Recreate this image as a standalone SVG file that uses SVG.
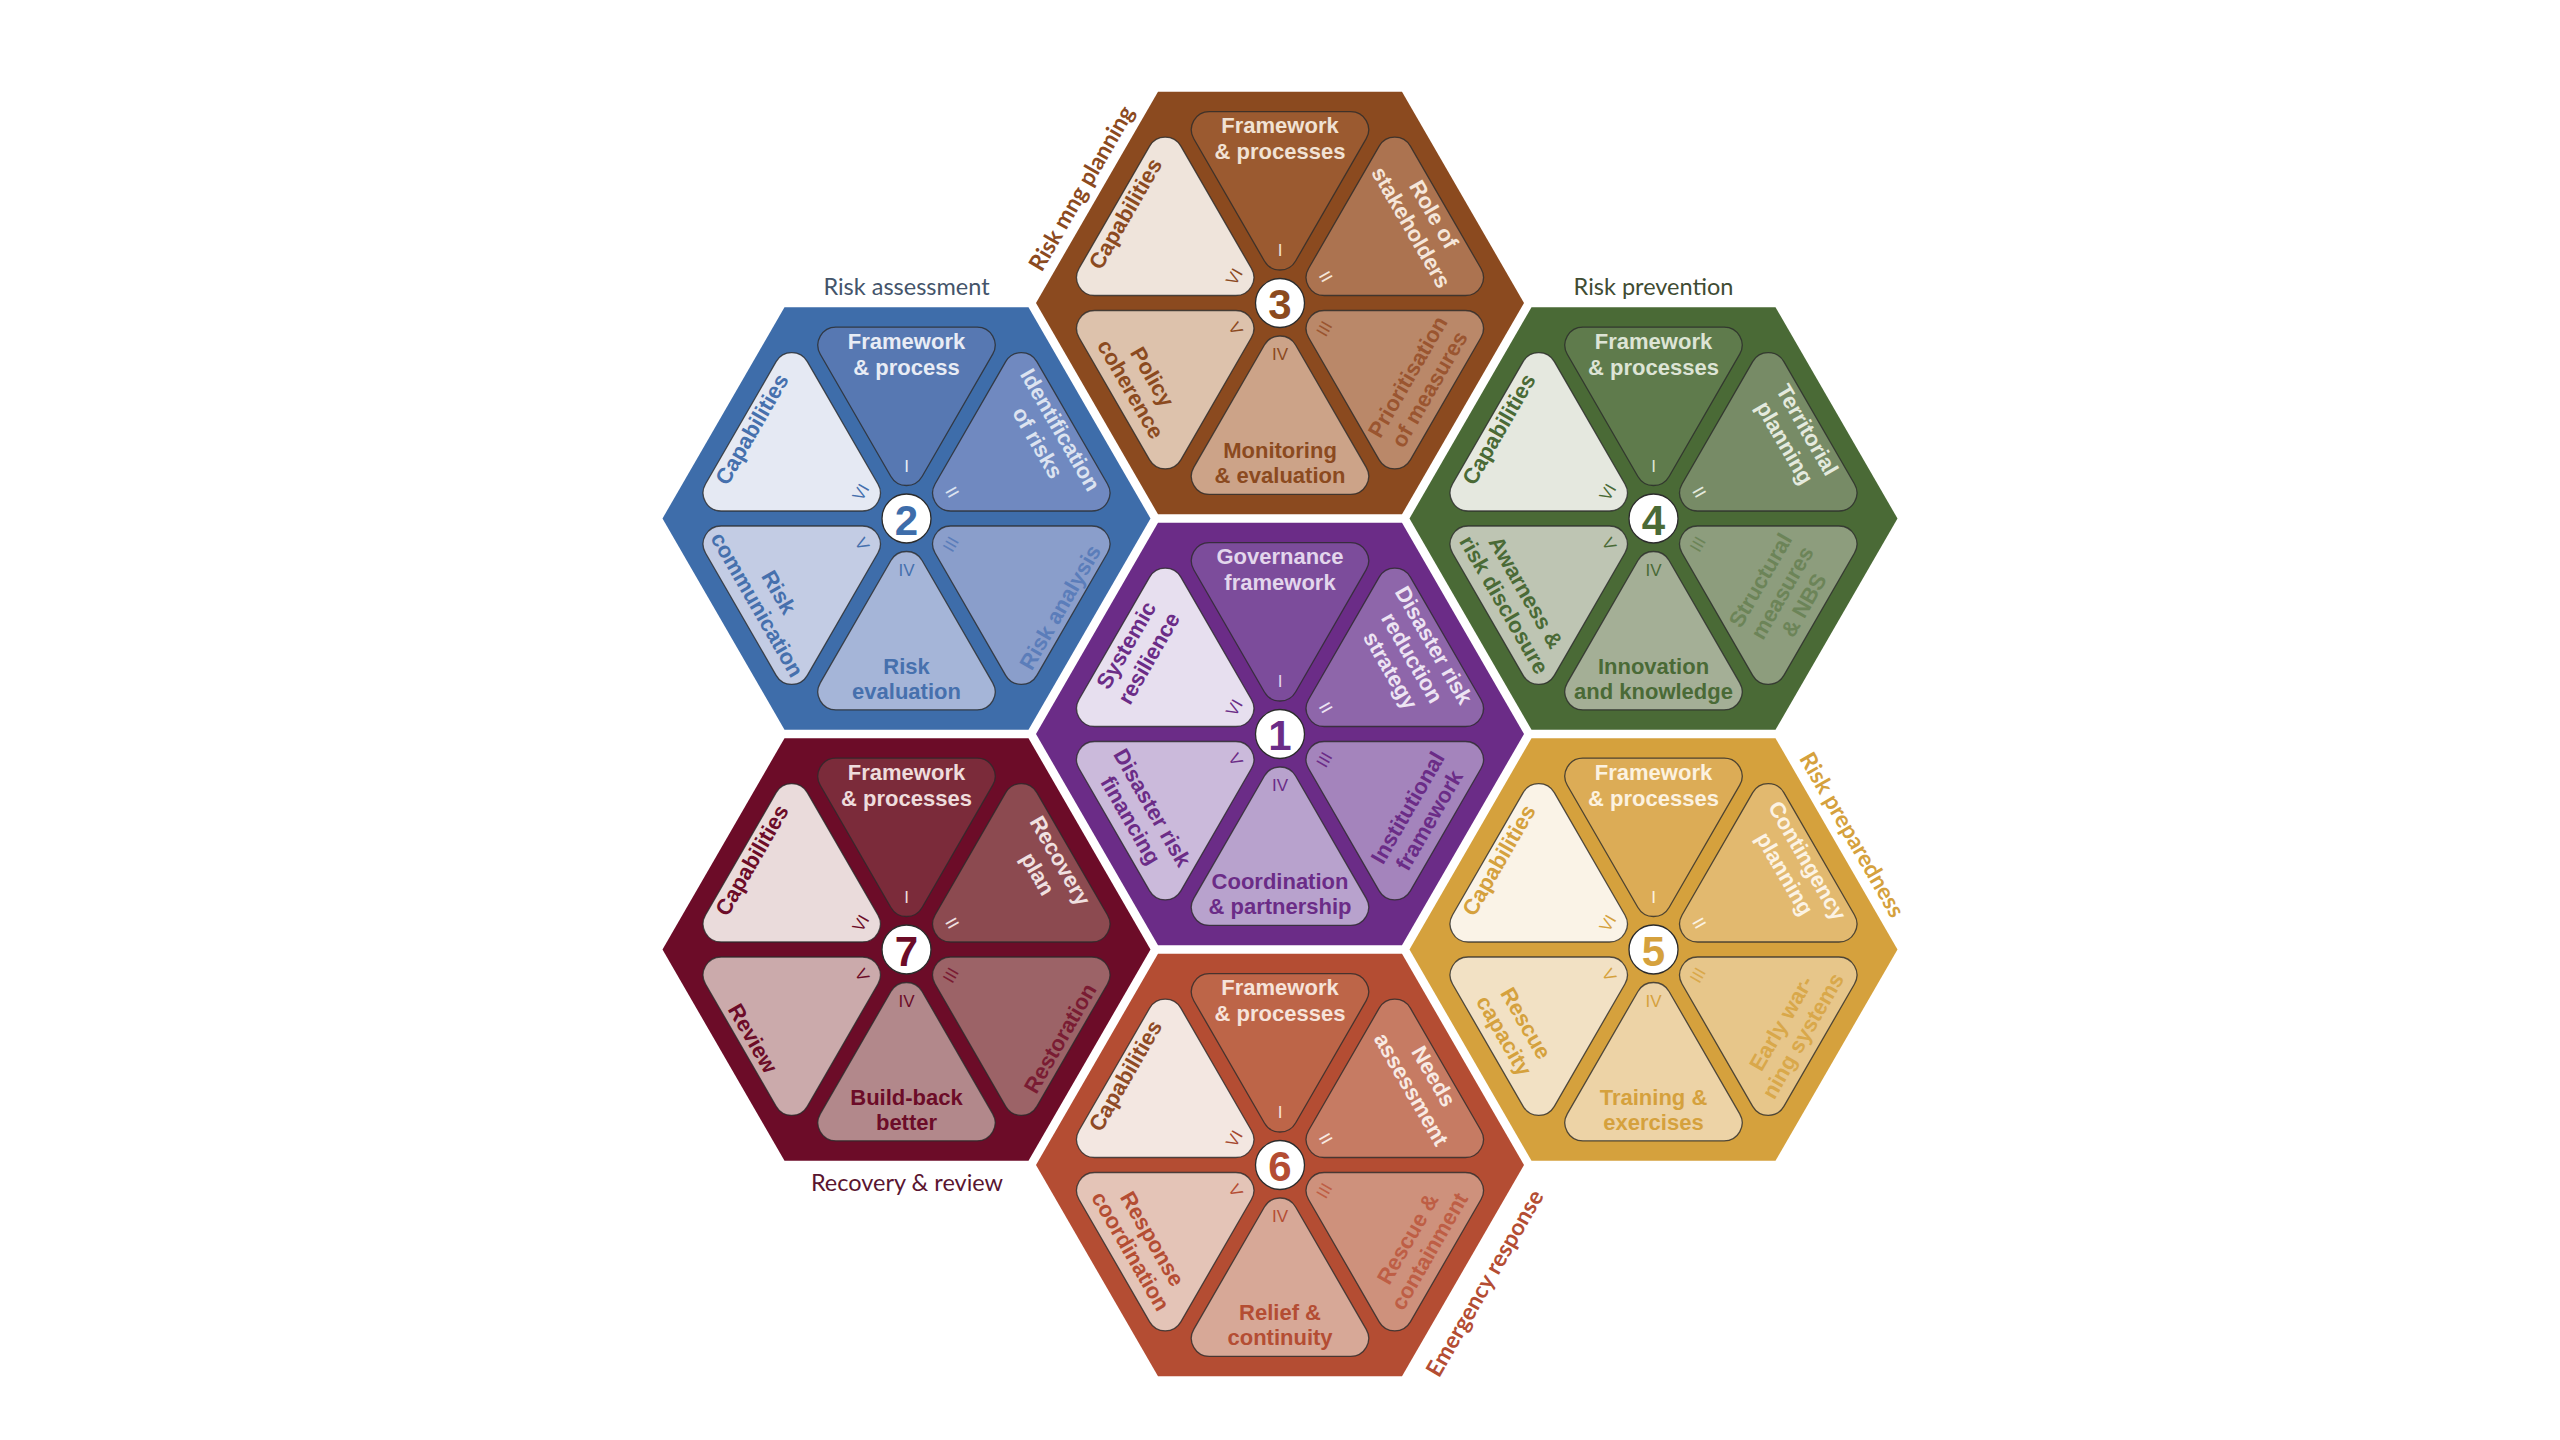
<svg xmlns="http://www.w3.org/2000/svg" xmlns:xlink="http://www.w3.org/1999/xlink" width="2560" height="1440" viewBox="0 0 2560 1440">
<style>
.t text{font-family:"Liberation Sans",Arial,sans-serif;font-weight:bold;font-size:22px;text-anchor:middle}
.t text.rn{font-weight:normal;font-size:17px}
.num{font-family:"Liberation Sans",Arial,sans-serif;font-weight:bold;font-size:42px;text-anchor:middle}
.tri{stroke:#2b2b2b;stroke-width:1.3;stroke-opacity:.8}
.ctr{fill:#fff;stroke:#2b2b2b;stroke-width:1.3}
.cap{font-family:Lato,"Open Sans",sans-serif;font-size:23.5px;text-anchor:middle}
.capb{font-family:Lato,"Open Sans",sans-serif;font-size:23px;font-weight:bold;text-anchor:middle}
</style>
<defs>
<polygon id="hx" points="244,0 122,211.3 -122,211.3 -244,0 -122,-211.3 122,-211.3"/>
<path id="tT" d="M15.59,-42 L86.21,-164.3 A18,18 0 0 0 70.62,-191.3 L-70.62,-191.3 A18,18 0 0 0 -86.21,-164.3 L-15.59,-42 A18,18 0 0 0 15.59,-42 Z"/>
<path id="tB" d="M15.59,42 L86.21,164.3 A18,18 0 0 1 70.62,191.3 L-70.62,191.3 A18,18 0 0 1 -86.21,164.3 L-15.59,42 A18,18 0 0 1 15.59,42 Z"/>
</defs>
<rect width="2560" height="1440" fill="#fff"/>

<g id="hex-1" transform="translate(1280,734)">
<use href="#hx" fill="#6B2C87"/>
<use href="#tT" class="tri" fill="#7C4C9B"/>
<use href="#tT" class="tri" fill="#8E66AA" transform="rotate(60)"/>
<use href="#tB" class="tri" fill="#A484BC" transform="rotate(-60)"/>
<use href="#tB" class="tri" fill="#B8A2CD"/>
<use href="#tB" class="tri" fill="#CBBADB" transform="rotate(60)"/>
<use href="#tT" class="tri" fill="#E7DFEF" transform="rotate(-60)"/>
<g class="t" fill="#E3D6EC"><text y="-170">Governance</text><text y="-144">framework</text><text class="rn" y="-47">I</text></g>
<g class="t" fill="#EDE4F3" transform="rotate(60)"><text y="-170">Disaster risk</text><text y="-145">reduction</text><text y="-120">strategy</text><text class="rn" y="-47">II</text></g>
<g class="t" fill="#6B2C87" transform="rotate(-60)"><text y="155">Institutional</text><text y="180">framework</text><text class="rn" y="57">III</text></g>
<g class="t" fill="#6B2C87"><text y="155">Coordination</text><text y="180">&amp; partnership</text><text class="rn" y="57">IV</text></g>
<g class="t" fill="#6B2C87" transform="rotate(60)"><text y="155">Disaster risk</text><text y="180">financing</text><text class="rn" y="57">V</text></g>
<g class="t" fill="#6B2C87" transform="rotate(-60)"><text y="-170">Systemic</text><text y="-144">resilience</text><text class="rn" y="-47">VI</text></g>
<circle r="24.5" class="ctr"/>
<text class="num" y="16" fill="#6B2C87">1</text>
</g>

<g id="hex-2" transform="translate(906.5,518.5)">
<use href="#hx" fill="#3E6DAA"/>
<use href="#tT" class="tri" fill="#5778B2"/>
<use href="#tT" class="tri" fill="#7089C0" transform="rotate(60)"/>
<use href="#tB" class="tri" fill="#8A9ECB" transform="rotate(-60)"/>
<use href="#tB" class="tri" fill="#A5B5D8"/>
<use href="#tB" class="tri" fill="#C3CCE4" transform="rotate(60)"/>
<use href="#tT" class="tri" fill="#E5E9F3" transform="rotate(-60)"/>
<g class="t" fill="#E8ECF5"><text y="-170">Framework</text><text y="-144">&amp; process</text><text class="rn" y="-47">I</text></g>
<g class="t" fill="#DCE3F0" transform="rotate(60)"><text y="-170">Identification</text><text y="-144">of risks</text><text class="rn" y="-47">II</text></g>
<g class="t" fill="#5B7DBA" transform="rotate(-60)"><text y="185">Risk analysis</text><text class="rn" y="57">III</text></g>
<g class="t" fill="#4670AD"><text y="155">Risk</text><text y="180">evaluation</text><text class="rn" y="57">IV</text></g>
<g class="t" fill="#4670AD" transform="rotate(60)"><text y="155">Risk</text><text y="180">communication</text><text class="rn" y="57">V</text></g>
<g class="t" fill="#4670AD" transform="rotate(-60)"><text y="-171">Capabilities</text><text class="rn" y="-47">VI</text></g>
<circle r="24.5" class="ctr"/>
<text class="num" y="16" fill="#3E6DAA">2</text>
</g>

<g id="hex-3" transform="translate(1280,303)">
<use href="#hx" fill="#8B4A1F"/>
<use href="#tT" class="tri" fill="#9B5A30"/>
<use href="#tT" class="tri" fill="#AC7350" transform="rotate(60)"/>
<use href="#tB" class="tri" fill="#BA8869" transform="rotate(-60)"/>
<use href="#tB" class="tri" fill="#CCA388"/>
<use href="#tB" class="tri" fill="#DDC2AC" transform="rotate(60)"/>
<use href="#tT" class="tri" fill="#EFE4DB" transform="rotate(-60)"/>
<g class="t" fill="#F1E2D4"><text y="-170">Framework</text><text y="-144">&amp; processes</text><text class="rn" y="-47">I</text></g>
<g class="t" fill="#F5E6DA" transform="rotate(60)"><text y="-170">Role of</text><text y="-144">stakeholders</text><text class="rn" y="-47">II</text></g>
<g class="t" fill="#9A5530" transform="rotate(-60)"><text y="155">Prioritisation</text><text y="180">of measures</text><text class="rn" y="57">III</text></g>
<g class="t" fill="#8B4A1F"><text y="155">Monitoring</text><text y="180">&amp; evaluation</text><text class="rn" y="57">IV</text></g>
<g class="t" fill="#8B4A1F" transform="rotate(60)"><text y="155">Policy</text><text y="180">coherence</text><text class="rn" y="57">V</text></g>
<g class="t" fill="#8B4A1F" transform="rotate(-60)"><text y="-171">Capabilities</text><text class="rn" y="-47">VI</text></g>
<circle r="24.5" class="ctr"/>
<text class="num" y="16" fill="#8B4A1F">3</text>
</g>

<g id="hex-4" transform="translate(1653.5,518.5)">
<use href="#hx" fill="#4A6A36"/>
<use href="#tT" class="tri" fill="#5F7B4C"/>
<use href="#tT" class="tri" fill="#778B66" transform="rotate(60)"/>
<use href="#tB" class="tri" fill="#8D9D7D" transform="rotate(-60)"/>
<use href="#tB" class="tri" fill="#A4AF96"/>
<use href="#tB" class="tri" fill="#BEC5B3" transform="rotate(60)"/>
<use href="#tT" class="tri" fill="#E5E8DF" transform="rotate(-60)"/>
<g class="t" fill="#DDE4D5"><text y="-170">Framework</text><text y="-144">&amp; processes</text><text class="rn" y="-47">I</text></g>
<g class="t" fill="#E4EADE" transform="rotate(60)"><text y="-170">Territorial</text><text y="-144">planning</text><text class="rn" y="-47">II</text></g>
<g class="t" fill="#6C8458" transform="rotate(-60)"><text y="131">Structural</text><text y="156">measures</text><text y="181">&amp; NBS</text><text class="rn" y="57">III</text></g>
<g class="t" fill="#4A6A36"><text y="155">Innovation</text><text y="180">and knowledge</text><text class="rn" y="57">IV</text></g>
<g class="t" fill="#4A6A36" transform="rotate(60)"><text y="155">Awarness &amp;</text><text y="180">risk disclosure</text><text class="rn" y="57">V</text></g>
<g class="t" fill="#4A6A36" transform="rotate(-60)"><text y="-171">Capabilities</text><text class="rn" y="-47">VI</text></g>
<circle r="24.5" class="ctr"/>
<text class="num" y="16" fill="#4A6A36">4</text>
</g>

<g id="hex-5" transform="translate(1653.5,949.5)">
<use href="#hx" fill="#D5A13D"/>
<use href="#tT" class="tri" fill="#DCAC56"/>
<use href="#tT" class="tri" fill="#E2B96F" transform="rotate(60)"/>
<use href="#tB" class="tri" fill="#E7C68A" transform="rotate(-60)"/>
<use href="#tB" class="tri" fill="#EDD3A6"/>
<use href="#tB" class="tri" fill="#F2E1C4" transform="rotate(60)"/>
<use href="#tT" class="tri" fill="#FAF3E7" transform="rotate(-60)"/>
<g class="t" fill="#FCF2E0"><text y="-170">Framework</text><text y="-144">&amp; processes</text><text class="rn" y="-47">I</text></g>
<g class="t" fill="#FCF3E4" transform="rotate(60)"><text y="-170">Contingency</text><text y="-144">planning</text><text class="rn" y="-47">II</text></g>
<g class="t" fill="#D9A84A" transform="rotate(-60)"><text y="155">Early war-</text><text y="180">ning systems</text><text class="rn" y="57">III</text></g>
<g class="t" fill="#D5A13D"><text y="155">Training &amp;</text><text y="180">exercises</text><text class="rn" y="57">IV</text></g>
<g class="t" fill="#D5A13D" transform="rotate(60)"><text y="155">Rescue</text><text y="180">capacity</text><text class="rn" y="57">V</text></g>
<g class="t" fill="#D5A13D" transform="rotate(-60)"><text y="-171">Capabilities</text><text class="rn" y="-47">VI</text></g>
<circle r="24.5" class="ctr"/>
<text class="num" y="16" fill="#D5A13D">5</text>
</g>

<g id="hex-6" transform="translate(1280,1165)">
<use href="#hx" fill="#B44D33"/>
<use href="#tT" class="tri" fill="#BD6548"/>
<use href="#tT" class="tri" fill="#C67B63" transform="rotate(60)"/>
<use href="#tB" class="tri" fill="#CE917C" transform="rotate(-60)"/>
<use href="#tB" class="tri" fill="#D7A897"/>
<use href="#tB" class="tri" fill="#E4C4B7" transform="rotate(60)"/>
<use href="#tT" class="tri" fill="#F3E7E1" transform="rotate(-60)"/>
<g class="t" fill="#F6E3DA"><text y="-170">Framework</text><text y="-144">&amp; processes</text><text class="rn" y="-47">I</text></g>
<g class="t" fill="#F8EAE3" transform="rotate(60)"><text y="-170">Needs</text><text y="-144">assessment</text><text class="rn" y="-47">II</text></g>
<g class="t" fill="#BE5E45" transform="rotate(-60)"><text y="155">Rescue &amp;</text><text y="180">containment</text><text class="rn" y="57">III</text></g>
<g class="t" fill="#B44D33"><text y="155">Relief &amp;</text><text y="180">continuity</text><text class="rn" y="57">IV</text></g>
<g class="t" fill="#B44D33" transform="rotate(60)"><text y="155">Response</text><text y="180">coordination</text><text class="rn" y="57">V</text></g>
<g class="t" fill="#8E4A25" transform="rotate(-60)"><text y="-171">Capabilities</text><text class="rn" y="-47" fill="#A5482F">VI</text></g>
<circle r="24.5" class="ctr"/>
<text class="num" y="16" fill="#B44D33">6</text>
</g>

<g id="hex-7" transform="translate(906.5,949.5)">
<use href="#hx" fill="#6C0C28"/>
<use href="#tT" class="tri" fill="#7B2B3A"/>
<use href="#tT" class="tri" fill="#8C4A50" transform="rotate(60)"/>
<use href="#tB" class="tri" fill="#9C6367" transform="rotate(-60)"/>
<use href="#tB" class="tri" fill="#B2888B"/>
<use href="#tB" class="tri" fill="#CBAAAB" transform="rotate(60)"/>
<use href="#tT" class="tri" fill="#EADBDB" transform="rotate(-60)"/>
<g class="t" fill="#EEDCDC"><text y="-170">Framework</text><text y="-144">&amp; processes</text><text class="rn" y="-47">I</text></g>
<g class="t" fill="#F0E0E0" transform="rotate(60)"><text y="-170">Recovery</text><text y="-144">plan</text><text class="rn" y="-47">II</text></g>
<g class="t" fill="#7A1C33" transform="rotate(-60)"><text y="185">Restoration</text><text class="rn" y="57">III</text></g>
<g class="t" fill="#6C0C28"><text y="155">Build-back</text><text y="180">better</text><text class="rn" y="57">IV</text></g>
<g class="t" fill="#6C0C28" transform="rotate(60)"><text y="185">Review</text><text class="rn" y="57">V</text></g>
<g class="t" fill="#6C0C28" transform="rotate(-60)"><text y="-171">Capabilities</text><text class="rn" y="-47">VI</text></g>
<circle r="24.5" class="ctr"/>
<text class="num" y="16" fill="#6C0C28">7</text>
</g>

<g id="labels">
<text class="cap" x="906.5" y="295" fill="#44546A">Risk assessment</text>
<text class="cap" x="1653.5" y="295" fill="#3F4C33">Risk prevention</text>
<text class="cap" x="907" y="1191" fill="#5A1530">Recovery &amp; review</text>
<text class="capb" fill="#8B4A1F" transform="translate(1088.3,192.3) rotate(-60)">Risk mng planning</text>
<text class="capb" fill="#D5A13D" transform="translate(1845.2,838.8) rotate(60)">Risk preparedness</text>
<text class="capb" fill="#B44D33" transform="translate(1491.6,1287.2) rotate(-60)">Emergency response</text>
</g>
<g id="connectors"/>
</svg>
